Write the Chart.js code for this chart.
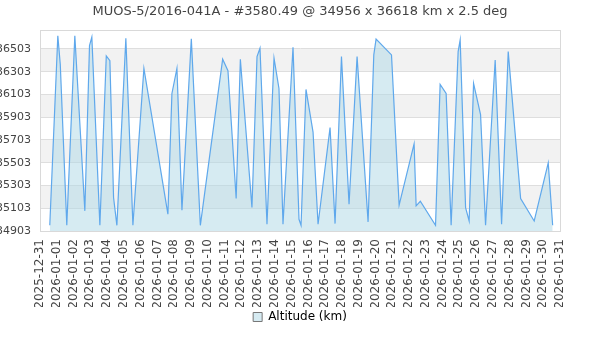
<!DOCTYPE html>
<html>
<head>
<meta charset="utf-8">
<script src="https://cdn.jsdelivr.net/npm/chart.js@4.4.1/dist/chart.umd.min.js"></script>
<style>
  html, body { margin: 0; padding: 0; background: #fff; }
  #wrap { width: 600px; height: 360px; }
</style>
</head>
<body>
<div id="wrap"><canvas id="chart" width="600" height="360"></canvas></div>
<script>
const chartTitle = 'MUOS-5/2016-041A - #3580.49 @ 34956 x 36618 km x 2.5 deg';
const seriesLabel = 'Altitude (km)';

// sample times (UTC)
const times = [
  '2025-12-31T14:00', '2026-01-01T01:30', '2026-01-01T05:00', '2026-01-01T14:20',
  '2026-01-02T01:50', '2026-01-02T16:10', '2026-01-02T22:50', '2026-01-03T02:10',
  '2026-01-03T13:40', '2026-01-03T22:50', '2026-01-04T04:00', '2026-01-04T09:15',
  '2026-01-04T14:00', '2026-01-05T02:50', '2026-01-05T12:55', '2026-01-06T04:40',
  '2026-01-07T15:00', '2026-01-07T20:45', '2026-01-08T03:55', '2026-01-08T11:05',
  '2026-01-09T00:30', '2026-01-09T13:25', '2026-01-10T21:20', '2026-01-11T04:55',
  '2026-01-11T16:40', '2026-01-11T22:40', '2026-01-12T15:15', '2026-01-12T22:30',
  '2026-01-13T02:45', '2026-01-13T12:45', '2026-01-13T22:50', '2026-01-14T05:55',
  '2026-01-14T11:40', '2026-01-15T02:00', '2026-01-15T10:35', '2026-01-15T13:30',
  '2026-01-15T20:35', '2026-01-16T06:40', '2026-01-16T13:50', '2026-01-17T07:00',
  '2026-01-17T14:10', '2026-01-17T23:20', '2026-01-18T10:10', '2026-01-18T21:40',
  '2026-01-19T13:25', '2026-01-19T21:35', '2026-01-20T00:50', '2026-01-20T22:55',
  '2026-01-21T09:50', '2026-01-22T07:15', '2026-01-22T10:10', '2026-01-22T16:10',
  '2026-01-23T13:55', '2026-01-23T20:30', '2026-01-24T05:05', '2026-01-24T12:15',
  '2026-01-24T22:15', '2026-01-25T01:10', '2026-01-25T08:55', '2026-01-25T14:00',
  '2026-01-25T20:20', '2026-01-26T06:20', '2026-01-26T13:30', '2026-01-27T03:15',
  '2026-01-27T12:25', '2026-01-27T21:55', '2026-01-28T15:40', '2026-01-29T11:05',
  '2026-01-30T07:10', '2026-01-30T13:30'
];

// altitude in km
const altitudes = [
  34953, 36618, 36368, 34953,
  36618, 35080, 36532, 36606,
  34953, 36441, 36399, 35197,
  34953, 36597, 34953, 36332,
  35051, 36111, 36332, 35086,
  36591, 34953, 36412, 36311,
  35189, 36412, 35109, 36435,
  36509, 34962, 36421, 36155,
  34962, 36518, 35006, 34953,
  36147, 35772, 34962, 35811,
  34968, 36435, 35139, 36435,
  34983, 36450, 36589, 36450,
  35130, 35669, 35124, 35164,
  34953, 36191, 36111, 34953,
  36479, 36582, 35109, 34991,
  36200, 35926, 34953, 36406,
  34962, 36479, 35189, 34991,
  35501, 34953
];

const yTicks = [34903, 35103, 35303, 35503, 35703, 35903, 36103, 36303, 36503];
const yMin = 34903;
const yMax = 36668;
const xStart = '2025-12-31';
const xEnd = '2026-01-31';

const DAY = 86400000;
const toMs = s => Date.parse(s.length > 10 ? s + ':00Z' : s + 'T00:00:00Z');

const points = times.map((t, i) => ({ x: toMs(t), y: altitudes[i] }));

// grey bands between every other pair of ticks + frame round the plot
const bandsPlugin = {
    id: 'bands',
    beforeDraw(chart) {
        const { ctx, chartArea, scales } = chart;
        ctx.save();
        ctx.fillStyle = '#f2f2f2';
        for (let i = 1; i < yTicks.length - 1; i += 2) {
            const top = scales.y.getPixelForValue(yTicks[i + 1]);
            const bottom = scales.y.getPixelForValue(yTicks[i]);
            ctx.fillRect(chartArea.left, top, chartArea.right - chartArea.left, bottom - top);
        }
        ctx.restore();
    },
    afterDraw(chart) {
        const { ctx, chartArea } = chart;
        ctx.save();
        ctx.strokeStyle = '#d9d9d9';
        ctx.lineWidth = 1;
        ctx.strokeRect(Math.round(chartArea.left) + 0.5, Math.round(chartArea.top) + 0.5,
            Math.round(chartArea.right - chartArea.left), Math.round(chartArea.bottom - chartArea.top));
        ctx.restore();
    }
};

Chart.defaults.font.family = "'DejaVu Sans', sans-serif";
Chart.defaults.color = '#444';

new Chart(document.getElementById('chart'), {
    type: 'line',
    data: {
        datasets: [{
            label: seriesLabel,
            data: points,
            borderColor: '#5fa8ec',
            backgroundColor: 'rgba(173, 216, 230, 0.5)',
            borderWidth: 1.2,
            pointRadius: 0,
            tension: 0,
            fill: 'start'
        }]
    },
    options: {
        responsive: false,
        animation: false,
        layout: { padding: { left: 0, right: 0, top: 0, bottom: 27 } },
        plugins: {
            title: {
                display: true,
                text: chartTitle,
                color: '#444',
                font: { size: 13, weight: 'normal' },
                padding: { top: 4, bottom: 10.5 }
            },
            legend: {
                position: 'bottom',
                labels: {
                    boxWidth: 9,
                    boxHeight: 9,
                    padding: 4,
                    color: '#333',
                    font: { size: 12 },
                    generateLabels(chart) {
                        return chart.data.datasets.map((ds, i) => ({
                            text: ds.label,
                            fillStyle: ds.backgroundColor,
                            strokeStyle: '#777',
                            lineWidth: 1,
                            datasetIndex: i
                        }));
                    }
                }
            },
            tooltip: { enabled: false }
        },
        scales: {
            x: {
                type: 'linear',
                min: toMs(xStart),
                max: toMs(xEnd),
                afterFit(scale) { scale.height = 76; },
                grid: { display: false, drawTicks: false },
                border: { display: true, color: '#d9d9d9' },
                ticks: {
                    stepSize: DAY,
                    autoSkip: false,
                    minRotation: 90,
                    maxRotation: 90,
                    padding: 8,
                    font: { size: 12 },
                    callback: v => new Date(v).toISOString().slice(0, 10)
                }
            },
            y: {
                min: yMin,
                max: yMax,
                afterFit(scale) { scale.width = 40; },
                afterBuildTicks(scale) { scale.ticks = yTicks.map(v => ({ value: v })); },
                grid: { color: '#dedede', drawTicks: false },
                border: { display: true, color: '#d9d9d9' },
                ticks: {
                    padding: 9,
                    font: { size: 11 },
                    callback: v => String(v)
                }
            },
            // empty right-hand axis that keeps the 40px gap on the right
            yRight: {
                position: 'right',
                afterFit(scale) { scale.width = 40; },
                grid: { display: false, drawTicks: false },
                border: { display: false },
                ticks: { display: false }
            }
        }
    },
    plugins: [bandsPlugin]
});
</script>
</body>
</html>
